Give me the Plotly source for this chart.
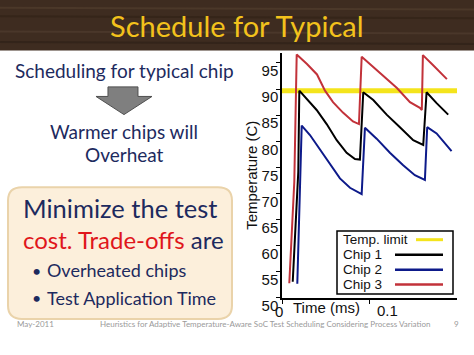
import plotly.graph_objects as go

W, H = 474, 355

# ---- data (time in ms, temperature in C) ----
limit_t = [0.0, 0.199]
limit_T = [89.7, 89.7]

chip1_t = [0.0122, 0.0185, 0.0197, 0.0281, 0.0394, 0.0508, 0.0622, 0.0735, 0.0830, 0.0886,
           0.0924, 0.1038, 0.1190, 0.1341, 0.1492, 0.1606, 0.1644, 0.1758, 0.1890]
chip1_T = [53.1, 74.1, 89.7, 88.2, 86.0, 83.3, 80.2, 77.8, 76.6, 76.5,
           89.4, 87.9, 85.1, 82.7, 80.2, 79.3, 89.4, 87.3, 85.1]

chip2_t = [0.0174, 0.0205, 0.0224, 0.0318, 0.0432, 0.0545, 0.0659, 0.0773, 0.0906,
           0.0943, 0.1076, 0.1227, 0.1378, 0.1511, 0.1625, 0.1651, 0.1758, 0.1928]
chip2_T = [52.7, 74.1, 83.0, 81.2, 78.4, 75.7, 72.9, 71.1, 69.9,
           82.6, 80.5, 77.8, 75.4, 73.5, 72.6, 82.7, 81.5, 78.1]

chip3_t = [0.0083, 0.0140, 0.0167, 0.0284, 0.0398, 0.0489, 0.0580, 0.0693, 0.0807, 0.0875,
           0.0906, 0.1034, 0.1193, 0.1307, 0.1455, 0.1568, 0.1590, 0.1602, 0.1716, 0.1875]
chip3_T = [52.8, 72.3, 96.6, 94.8, 92.8, 89.7, 87.5, 85.5, 83.8, 83.3,
           96.2, 94.3, 91.9, 90.2, 87.5, 86.4, 86.0, 96.5, 94.6, 91.9]

y_ticks = [50, 55, 60, 65, 70, 75, 80, 85, 90, 95]
x_ticks = [0, 0.1]
x_ticktext = ["0", "0.1"]

series_names = ["Temp. limit", "Chip 1", "Chip 2", "Chip 3"]
series_colors = ["#f4e41c", "#000000", "#0d1a8a", "#c2323a"]

NAVY = "#1d2a5e"
RED = "#e0161b"


def px(x):
    return x / W


def py(y):
    return 1 - y / H


fig = go.Figure()
fig.add_trace(go.Scatter(x=limit_t, y=limit_T, mode="lines", name=series_names[0],
                         line=dict(color=series_colors[0], width=5), showlegend=False))
for t, T, nm, c in [(chip1_t, chip1_T, series_names[1], series_colors[1]),
                    (chip2_t, chip2_T, series_names[2], series_colors[2]),
                    (chip3_t, chip3_T, series_names[3], series_colors[3])]:
    fig.add_trace(go.Scatter(x=t, y=T, mode="lines", name=nm,
                             line=dict(color=c, width=2), showlegend=False))

axis_font = dict(family="Liberation Sans, Arial", size=15, color="#111111")

fig.update_layout(
    width=W, height=H,
    margin=dict(l=0, r=0, t=0, b=0),
    paper_bgcolor="white", plot_bgcolor="white",
    showlegend=False,
    xaxis=dict(domain=[px(282), px(457)], range=[0, 0.199], tickvals=x_ticks,
               showticklabels=False,
               showline=True, linecolor="black", linewidth=1.5, ticks="outside", ticklen=4,
               tickcolor="black", showgrid=False, zeroline=False),
    yaxis=dict(domain=[py(312), py(55)], range=[50, 97.0], tickvals=y_ticks,
               showline=True, linecolor="black", linewidth=1.5, ticks="outside", ticklen=4,
               tickcolor="black", showgrid=False, zeroline=False, tickfont=axis_font,
               ticklabelshift=8, ticklabelstandoff=-5,
               title=dict(text="Temperature (C)", font=axis_font, standoff=0)),
)

shapes = []
annotations = []

# header band
shapes.append(dict(type="rect", xref="paper", yref="paper", x0=0, x1=1, y0=py(53), y1=1,
                   fillcolor="#3e2c20", line=dict(width=0), layer="above"))
for yy, col in [(8, "#4b3829"), (17, "#352519"), (33, "#4a372a"), (44, "#33241a")]:
    shapes.append(dict(type="line", xref="paper", yref="paper", x0=0, x1=1, y0=py(yy), y1=py(yy + 2),
                       line=dict(color=col, width=2), layer="above"))
annotations.append(dict(text="Schedule for Typical", x=px(237), y=py(27), xref="paper", yref="paper",
                        showarrow=False, xanchor="center", yanchor="middle",
                        font=dict(family="Lato", size=29, color="#f3c21c")))

# left side texts
slide_font = "Lato"
annotations.append(dict(text="Scheduling for typical chip", x=px(124), y=py(74), xref="paper", yref="paper",
                        showarrow=False, xanchor="center", yanchor="middle",
                        font=dict(family=slide_font, size=19, color=NAVY)))
arrow_pts = [(108, 91), (138, 91), (138, 101), (152, 101), (124, 120), (96, 101), (108, 101)]
path = "M " + " L ".join(f"{px(a):.4f},{py(b):.4f}" for a, b in arrow_pts) + " Z"
shapes.append(dict(type="path", xref="paper", yref="paper", path=path,
                   fillcolor="#7f7f7f", line=dict(color="#4f4f4f", width=1)))
for txt, yy in [("Warmer chips will", 138), ("Overheat", 162)]:
    annotations.append(dict(text=txt, x=px(124), y=py(yy), xref="paper", yref="paper",
                            showarrow=False, xanchor="center", yanchor="middle",
                            font=dict(family=slide_font, size=19, color=NAVY)))

# rounded box
x0b, x1b, y0b, y1b, r = 8, 232, 196, 334, 14
rb = (f"M {px(x0b + r)},{py(y0b)} L {px(x1b - r)},{py(y0b)} Q {px(x1b)},{py(y0b)} {px(x1b)},{py(y0b + r)} "
      f"L {px(x1b)},{py(y1b - r)} Q {px(x1b)},{py(y1b)} {px(x1b - r)},{py(y1b)} "
      f"L {px(x0b + r)},{py(y1b)} Q {px(x0b)},{py(y1b)} {px(x0b)},{py(y1b - r)} "
      f"L {px(x0b)},{py(y0b + r)} Q {px(x0b)},{py(y0b)} {px(x0b + r)},{py(y0b)} Z")
shapes.append(dict(type="path", xref="paper", yref="paper", path=rb, fillcolor="#fcefdb",
                   line=dict(color="#ead3aa", width=2), layer="below"))
annotations.append(dict(text="Minimize the test", x=px(21), y=py(218), xref="paper", yref="paper",
                        showarrow=False, xanchor="left", yanchor="middle",
                        font=dict(family=slide_font, size=25.5, color=NAVY)))
annotations.append(dict(text=f"<span style='color:{RED}'>cost. Trade-offs</span> are", x=px(21), y=py(251),
                        xref="paper", yref="paper", showarrow=False, xanchor="left", yanchor="middle",
                        font=dict(family=slide_font, size=24, color=NAVY)))
for txt, yy in [("Overheated chips", 283), ("Test Application Time", 312)]:
    annotations.append(dict(text="\u2022", x=px(30), y=py(yy), xref="paper", yref="paper",
                            showarrow=False, xanchor="left", yanchor="middle",
                            font=dict(family=slide_font, size=16, color=NAVY)))
    annotations.append(dict(text=txt, x=px(45), y=py(yy), xref="paper", yref="paper",
                            showarrow=False, xanchor="left", yanchor="middle",
                            font=dict(family=slide_font, size=18, color=NAVY)))

# x-axis tick labels and title (title sits between the two tick labels)
annotations.append(dict(text=x_ticktext[0], x=x_ticks[0], y=py(326.5), xref="x", yref="paper",
                        showarrow=False, xanchor="center", yanchor="middle", xshift=-3, font=axis_font))
annotations.append(dict(text=x_ticktext[1], x=x_ticks[1], y=py(325), xref="x", yref="paper",
                        showarrow=False, xanchor="left", yanchor="middle", xshift=5, font=axis_font))
annotations.append(dict(text="Time (ms)", x=px(326), y=py(322), xref="paper", yref="paper",
                        showarrow=False, xanchor="center", yanchor="middle", font=axis_font))

# custom legend (symbols on the right)
shapes.append(dict(type="rect", xref="paper", yref="paper", x0=px(337), x1=px(453), y0=py(308), y1=py(242),
                   fillcolor="white", line=dict(color="black", width=1.5)))
leg_rows = [251, 266.7, 282.4, 298]
leg_x0 = [416, 395, 395, 395]
leg_w = [3, 2.5, 2.5, 2.5]
for nm, c, yy, lx, lw in zip(series_names, series_colors, leg_rows, leg_x0, leg_w):
    annotations.append(dict(text=nm, x=px(341), y=py(yy), xref="paper", yref="paper",
                            showarrow=False, xanchor="left", yanchor="middle",
                            font=dict(family="Liberation Sans, Arial", size=13.5, color="#111111")))
    shapes.append(dict(type="line", xref="paper", yref="paper", x0=px(lx), x1=px(443), y0=py(yy), y1=py(yy),
                       line=dict(color=c, width=lw)))

# footer
foot = dict(family="Lato", size=8, color="#9a9a9a")
annotations.append(dict(text="May-2011", x=px(15), y=py(339), xref="paper", yref="paper",
                        showarrow=False, xanchor="left", yanchor="middle", font=foot))
annotations.append(dict(text="Heuristics for Adaptive Temperature-Aware SoC Test Scheduling Considering Process Variation",
                        x=px(265), y=py(339), xref="paper", yref="paper",
                        showarrow=False, xanchor="center", yanchor="middle", font=foot))
annotations.append(dict(text="9", x=px(456), y=py(339), xref="paper", yref="paper",
                        showarrow=False, xanchor="center", yanchor="middle", font=foot))

fig.update_layout(shapes=shapes, annotations=annotations)
fig.write_html("out.html")
